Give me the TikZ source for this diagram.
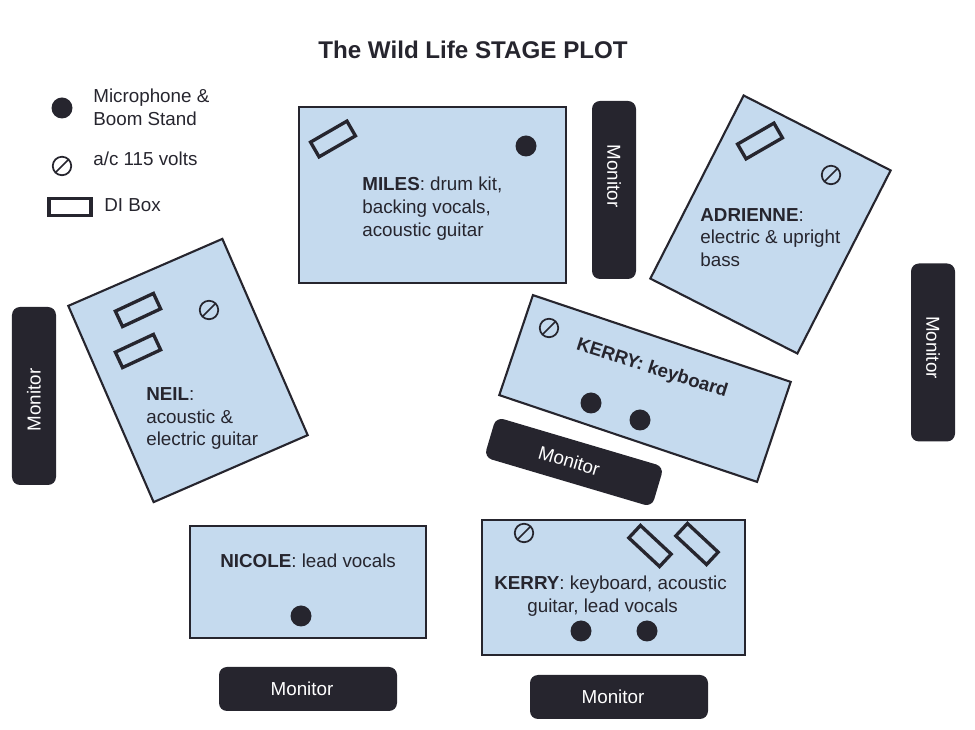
\documentclass[tikz,border=0pt]{standalone}
\usepackage{fontspec}
\setmainfont{Liberation Sans}
\definecolor{stageblue}{HTML}{C5DAEE}
\definecolor{stagedark}{HTML}{26252E}

\begin{document}
\begin{tikzpicture}[
  font=\fontsize{10.7}{13}\selectfont,
  riser/.style={draw=stagedark, line width=1.2pt, fill=stageblue, inner sep=0pt},
  monitor/.style={fill=stagedark, text=white, rounded corners=1.6mm,
    minimum width=3.56cm, minimum height=0.88cm, inner sep=0pt},
  mic/.style={circle, fill=stagedark, minimum size=0.42cm, inner sep=0pt},
  outlet/.style={circle, draw=stagedark, line width=1pt, minimum size=0.37cm, inner sep=0pt,
    path picture={\draw[stagedark, line width=1pt] (path picture bounding box.south west) -- (path picture bounding box.north east);}},
  dibox/.style={draw=stagedark, line width=1.9pt, minimum width=0.84cm, minimum height=0.34cm, inner sep=0pt},
  player/.style={align=left, text=stagedark, inner sep=0pt}
]
\useasboundingbox (0,0) rectangle (19.5,14.6);
\node[font=\fontsize{13.75}{16}\selectfont\bfseries, text=stagedark] (title) at (9.46,13.60) {The Wild Life STAGE PLOT};

% legend
\node[mic] (keymic) at (1.24,12.44) {};
\node[player, anchor=west] (keymictext) at (1.86,12.46) {Microphone \&\\Boom Stand};
\node[outlet] (keyac) at (1.24,11.28) {};
\node[player, anchor=west] (keyactext) at (1.86,11.42) {a/c 115 volts};
\node[dibox, fill=white] (keydi) at (1.40,10.46) {};
\node[player, anchor=west] (keyditext) at (2.08,10.50) {DI Box};

% risers
\node[riser, minimum width=5.34cm, minimum height=3.52cm] (miles) at (8.65,10.70) {};
\node[riser, minimum width=3.30cm, minimum height=4.11cm, rotate=-27] (adrienne) at (15.41,10.11) {};
\node[riser, minimum width=3.36cm, minimum height=4.28cm, rotate=23.5] (neil) at (3.76,7.19) {};
\node[riser, minimum width=5.44cm, minimum height=2.11cm, rotate=-18.6] (keyboard) at (12.90,6.83) {};
\node[riser, minimum width=4.72cm, minimum height=2.24cm] (nicole) at (6.16,2.96) {};
\node[riser, minimum width=5.26cm, minimum height=2.70cm] (kerry) at (12.27,2.85) {};

% who stands where
\node[player, anchor=west] (milestext) at (7.24,10.43) {\textbf{MILES}: drum kit,\\backing vocals,\\acoustic guitar};
\node[player, anchor=west] (adriennetext) at (14.00,9.85) {\textbf{ADRIENNE}:\\electric \& upright\\bass};
\node[player, anchor=west] (neiltext) at (2.92,6.23) {\textbf{NEIL}:\\acoustic \&\\electric guitar};
\node[player, rotate=-17.5, font=\fontsize{10.6}{13}\selectfont\bfseries] (keyboardtext) at (13.04,7.22) {KERRY: keyboard};
\node[player, anchor=west] (nicoletext) at (4.40,3.38) {\textbf{NICOLE}: lead vocals};
\node[player, anchor=west] (kerrytext) at (9.88,2.68) {\textbf{KERRY}: keyboard, acoustic\\\hspace*{0.66cm}guitar, lead vocals};

% monitors
\node[monitor, rotate=-90] (montop) at (12.28,10.80) {Monitor\hspace*{0.56cm}};
\node[monitor, rotate=-90] (monright) at (18.66,7.55) {Monitor\hspace*{0.20cm}};
\node[monitor, rotate=90] (monleft) at (0.68,6.68) {Monitor\hspace*{0.16cm}};
\node[monitor, rotate=-16.5, minimum width=3.50cm, minimum height=0.84cm] (montilt) at (11.48,5.36) {Monitor\hspace*{0.20cm}};
\node[monitor] (monnicole) at (6.16,0.82) {Monitor\hspace*{0.24cm}};
\node[monitor] (monkerry) at (12.38,0.66) {Monitor\hspace*{0.24cm}};

% microphones
\node[mic] (micmiles) at (10.52,11.68) {};
\node[mic] (micnicole) at (6.02,2.28) {};
\node[mic] (mickeyA) at (11.82,6.54) {};
\node[mic] (mickeyB) at (12.80,6.20) {};
\node[mic] (mickerryA) at (11.62,1.98) {};
\node[mic] (mickerryB) at (12.94,1.98) {};

% power
\node[outlet] (acadrienne) at (16.62,11.10) {};
\node[outlet] (acneil) at (4.18,8.40) {};
\node[outlet] (ackeyboard) at (10.98,8.04) {};
\node[outlet] (ackerry) at (10.48,3.94) {};

% DI boxes
\node[dibox, rotate=30] (dimiles) at (6.66,11.82) {};
\node[dibox, rotate=30] (diadrienne) at (15.20,11.78) {};
\node[dibox, rotate=25] (dineilA) at (2.76,8.40) {};
\node[dibox, rotate=25] (dineilB) at (2.76,7.58) {};
\node[dibox, rotate=-43] (dikerryA) at (13.00,3.68) {};
\node[dibox, rotate=-43] (dikerryB) at (13.94,3.72) {};
\end{tikzpicture}
\end{document}
